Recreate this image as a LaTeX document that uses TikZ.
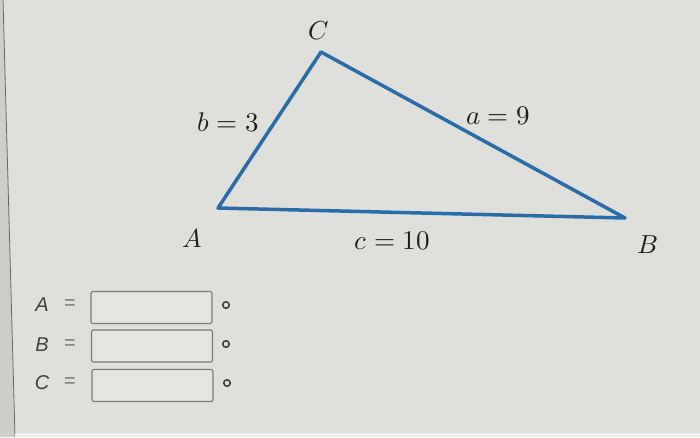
\documentclass[tikz,border=0pt]{standalone}
\usepackage{fontspec}
\setsansfont{Liberation Sans}
\usepackage{unicode-math}
\setmathfont{Latin Modern Math}
\definecolor{bg}{RGB}{223,223,219}
\definecolor{tri}{RGB}{42,108,168}
\definecolor{ink}{RGB}{30,30,30}
\definecolor{boxline}{RGB}{125,125,120}
\definecolor{boxfill}{RGB}{228,228,224}
\begin{document}
\begin{tikzpicture}[x=1pt,y=-1pt,
  vlabel/.style={text=ink,font=\fontsize{26}{26}\selectfont,inner sep=0pt},
  slabel/.style={text=ink,font=\fontsize{27}{27}\selectfont,inner sep=0pt},
  qlabel/.style={text=ink!85,font=\sffamily\itshape\fontsize{20}{20}\selectfont,inner sep=0pt},
  eqsign/.style={text=ink!60,font=\sffamily\fontsize{20}{20}\selectfont,inner sep=0pt},
  ansbox/.style={draw=boxline,fill=boxfill,line width=1.2pt,rounded corners=2pt,minimum width=121pt,minimum height=32pt,inner sep=0pt},
  degmark/.style={draw=ink!85,line width=1.6pt,circle,minimum size=6.5pt,inner sep=0pt},
  side/.style={draw=tri,line width=3.5pt,line join=round}]
\useasboundingbox (0,0) rectangle (700,437);
\fill[bg] (0,0) rectangle (700,437);
\fill[bg!92!black] (0,0) -- (3,0) -- (15,437) -- (0,437) -- cycle;
\draw[gray!80!black,line width=0.8pt] (3,0) -- (15,437);
\fill[bg!60!white] (15,433) rectangle (700,437);
% triangle vertices
\coordinate (A) at (218,208);
\coordinate (B) at (625,218);
\coordinate (C) at (321,52);
\draw[side] (A) -- (B) -- (C) -- cycle;
% vertex labels
\node[vlabel] (lC) at (319,31) {$C$};
\node[vlabel] (lA) at (192,238) {$A$};
\node[vlabel] (lB) at (648,245) {$B$};
% side labels
\node[slabel] (lb) at (228,122) {$b=3$};
\node[slabel] (la) at (498,116) {$a=9$};
\node[slabel] (lc) at (392,241) {$c=10$};
% answer rows
\node[qlabel] (qA) at (42,305) {A};
\node[eqsign] (eA) at (70,305) {=};
\node[ansbox] (bA) at (151.5,307.5) {};
\node[degmark] (dA) at (226,305) {};
\node[qlabel] (qB) at (42,345) {B};
\node[eqsign] (eB) at (70,345) {=};
\node[ansbox] (bB) at (152,346) {};
\node[degmark] (dB) at (226,344) {};
\node[qlabel] (qC) at (42,383) {C};
\node[eqsign] (eC) at (70,383) {=};
\node[ansbox] (bC) at (152.5,385.5) {};
\node[degmark] (dC) at (227,383) {};
\end{tikzpicture}
\end{document}
